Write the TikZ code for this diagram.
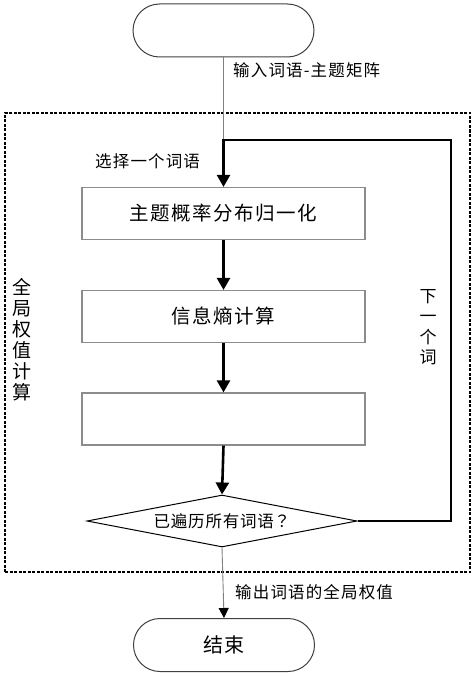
\documentclass[tikz,border=0pt]{standalone}
\usepackage{fontspec}
\newfontfamily\cjk{Noto Sans CJK SC}
\newfontfamily\cjkls{Noto Sans CJK SC}[LetterSpace=7]
\newfontfamily\cjkbox{Noto Sans CJK SC}[LetterSpace=8]
\newfontfamily\cjkdia{Noto Sans CJK SC}[LetterSpace=5]
\newfontfamily\cjktc{Noto Sans CJK TC}
\usetikzlibrary{shapes.misc,shapes.geometric,arrows.meta}
\begin{document}
\begin{tikzpicture}[x=1pt,y=-1pt,
  every node/.style={font=\cjk},
  term/.style={rounded rectangle,draw=black!75,line width=1pt,minimum width=181pt,minimum height=53pt,inner sep=0pt},
  procbox/.style={rectangle,draw=black!45,line width=1.2pt,minimum width=283pt,minimum height=52pt,inner sep=0pt,font=\cjkbox\fontsize{19.5}{22}\selectfont},
  decide/.style={diamond,shape aspect=5.2,draw=black,line width=1pt,minimum width=270pt,minimum height=52pt,inner sep=0pt,font=\cjkdia\fontsize{16.5}{20}\selectfont},
  lbl/.style={inner sep=0pt,font=\cjkls\fontsize{16.5}{18}\selectfont},
  thinline/.style={draw=black!50,line width=0.9pt},
  thickarr/.style={draw=black,line width=2.6pt,-{Triangle[length=12pt,width=13pt]}},
  thinarr/.style={draw=black!50,line width=0.9pt,-{Triangle[length=10pt,width=10pt,fill=black,color=black]}},
  frame/.style={draw=black,line width=1.5pt,dash pattern=on 3pt off 1.5pt,minimum width=465pt,minimum height=459pt,inner sep=0pt}
]
\useasboundingbox (0,0) rectangle (474,677);

\node[frame] (fr) at (237.5,342.5) {};

\node[term] (start) at (223.5,30.5) {};
\node[procbox] (b1) at (223.5,213.5) {主题概率分布归一化};
\node[procbox] (b2) at (223.5,316.5) {信息熵计算};
\node[procbox] (b3) at (223.5,419) {};
\node[decide] (dia) at (222,521) {已遍历所有词语{\cjktc\fontsize{16.5}{20}\selectfont ？}};
\node[term,font=\cjkbox\fontsize{20}{24}\selectfont] (stop) at (224,645) {结束};

\coordinate (join) at (223.5,140);
\coordinate (loopR) at (451,140);

\node[lbl,anchor=west] (inlbl) at (233,70) {输入词语-主题矩阵};
\node[lbl,anchor=west] (sel) at (95,161) {选择一个词语};
\node[lbl,anchor=west] (outlbl) at (235,592) {输出词语的全局权值};
\node[inner sep=0pt,align=center,font=\cjk\fontsize{19}{21}\selectfont] (left) at (22,340) {全\\局\\权\\值\\计\\算};
\node[inner sep=0pt,align=center,font=\cjk\fontsize{17}{20.5}\selectfont] (right) at (428,327) {下\\一\\个\\词};

\draw[thinline] (start.south) -- (join);
\draw[thickarr] (dia.east) -| (loopR) -| (b1.north);
\draw[thickarr] (b1.south) -- (b2.north);
\draw[thickarr] (b2.south) -- (b3.north);
\draw[thickarr] (b3.south) -- (dia.north);
\draw[thinarr] (dia.south) -- (stop.north);
\end{tikzpicture}
\end{document}
